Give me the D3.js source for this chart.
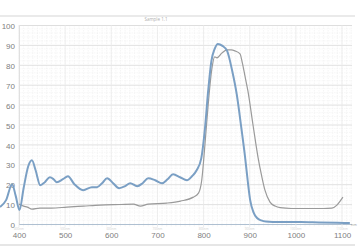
<!DOCTYPE html>
<html>
<head>
<meta charset="utf-8">
<script src="https://cdn.jsdelivr.net/npm/d3@7"></script>
<style>
  body { margin: 0; background: #fff; }
  svg { display: block; font-family: "Open Sans", "DejaVu Sans", sans-serif; }
</style>
</head>
<body>
<svg id="chart" width="359" height="250"></svg>
<script>
// wavelength (nm) / transmission (%)
const blueWl = [359, 372, 385, 393, 401, 410, 420, 428, 436, 446, 456, 467, 475, 482, 495, 506, 520, 539, 558, 569, 580, 591, 604, 617, 630, 641, 656, 668, 680, 695, 710, 722, 734, 749, 764, 775, 785, 795, 803, 810, 817, 824, 831, 841, 851, 862, 872, 882, 890, 896, 901, 908, 916, 925, 935, 950, 980, 1010, 1050, 1090, 1117];
const blueT  = [8.5, 12, 20, 14, 7, 18, 29, 32, 27, 19.5, 21, 23.5, 22.5, 21, 22.5, 24, 20, 17, 18.5, 18.5, 20.5, 23, 20.5, 18, 19, 20.5, 19, 20.5, 23, 22, 20.5, 22.5, 25, 23.5, 22, 24, 27, 33, 48, 67, 82, 88, 90.5, 89.5, 87, 77, 65, 48, 33.5, 21, 12, 6, 3, 1.8, 1.2, 1, 1, 1, 0.8, 0.6, 0.5];

const grayWl = [400, 410, 418, 428, 445, 470, 504, 540, 576, 620, 648, 663, 680, 720, 750, 778, 789, 796, 803, 810, 818, 824, 829, 840, 851, 860, 868, 879, 884, 890, 896, 907, 918, 926, 933, 944, 955, 966, 990, 1030, 1060, 1078, 1089, 1096, 1102];
const grayT  = [10, 9, 8.5, 7.5, 8, 8, 8.5, 9, 9.5, 9.8, 10, 9, 10, 10.5, 11.5, 13.5, 15.5, 22, 40, 60, 78, 84, 83.5, 86, 87.5, 87.5, 87, 85.5, 81, 74, 67, 50, 33.5, 24, 17, 11, 9, 8.2, 7.8, 7.8, 7.8, 8, 9.5, 11.5, 13.5];

const yTicks = [0, 10, 20, 30, 40, 50, 60, 70, 80, 90, 100];
const xTicks = [400, 500, 600, 700, 800, 900, 1000, 1100];
const titleText = "Sample 1.1";

const svg = d3.select("#chart");

// 400 nm sits at x=19, 1100 nm at x=342
const x = d3.scaleLinear().domain([400, 1100]).range([19, 342]);
const y = d3.scaleLinear().domain([0, 100]).range([224, 25]);
const xRight = 352;

// top frame and title
svg.append("line").attr("x1", 0).attr("x2", 355).attr("y1", 16).attr("y2", 16)
    .attr("stroke", "#d6d6d6").attr("stroke-width", 1.2);
svg.append("text").attr("x", 156).attr("y", 21).attr("text-anchor", "middle")
    .attr("font-size", 4.5).attr("fill", "#b0b0b0").text(titleText);
// bottom band
svg.append("line").attr("x1", 0).attr("x2", 355).attr("y1", 245).attr("y2", 245)
    .attr("stroke", "#e6e6e6").attr("stroke-width", 2);

// minor vertical grid every 10 nm
const minorX = d3.range(400, 1130, 10);
svg.append("g").selectAll("line").data(minorX).join("line")
    .attr("x1", d => x(d)).attr("x2", d => x(d))
    .attr("y1", y(100)).attr("y2", 227)
    .attr("stroke", "#efefef").attr("stroke-width", 0.6).attr("stroke-dasharray", "1.5,1");

// minor horizontal grid every 2 %
const minorY = d3.range(2, 100, 2).filter(v => v % 10 !== 0);
svg.append("g").selectAll("line").data(minorY).join("line")
    .attr("x1", x(400)).attr("x2", xRight)
    .attr("y1", d => y(d)).attr("y2", d => y(d))
    .attr("stroke", "#f2f2f2").attr("stroke-width", 0.6).attr("stroke-dasharray", "1.5,1");

// major horizontal grid
const yAxis = d3.axisLeft(y).tickValues(yTicks).tickSize(-(xRight - x(400))).tickPadding(4);
svg.append("g").attr("transform", `translate(${x(400)},0)`).call(yAxis)
    .call(g => g.select(".domain").attr("stroke", "#dcdcdc"))
    .call(g => g.selectAll(".tick line").attr("stroke", d => d === 0 ? "#a9bccf" : "#dedede").attr("stroke-width", 0.9))
    .call(g => g.selectAll("text").attr("font-size", 8).attr("fill", "#808080").attr("dy", "0.45em"));

// major vertical grid at labelled ticks
svg.append("g").selectAll("line").data(xTicks).join("line")
    .attr("x1", d => x(d)).attr("x2", d => x(d))
    .attr("y1", y(100)).attr("y2", 227)
    .attr("stroke", "#e8e8e8").attr("stroke-width", 0.7);

// x axis labels
const xAxis = d3.axisBottom(x).tickValues(xTicks).tickFormat(d3.format("d")).tickSize(0).tickPadding(6);
svg.append("g").attr("transform", "translate(0,226)").call(xAxis)
    .call(g => g.select(".domain").remove())
    .call(g => g.selectAll("text").attr("font-size", 8).attr("fill", "#808080"));
// faint small labels above
svg.append("g").selectAll("text").data(xTicks).join("text")
    .attr("x", d => x(d)).attr("y", 229.5).attr("text-anchor", "middle")
    .attr("font-size", 3).attr("fill", "#d2d2d2").text(d => d + "nm");
svg.append("text").attr("x", 354).attr("y", 226).attr("font-size", 3.5)
    .attr("fill", "#999").attr("text-anchor", "middle").text("nm");

const line = d3.line().x(d => x(d[0])).y(d => y(d[1])).curve(d3.curveMonotoneX);

svg.append("path").datum(d3.zip(grayWl, grayT))
    .attr("fill", "none").attr("stroke", "#9a9a9a").attr("stroke-width", 1.2)
    .attr("d", line);
svg.append("path").datum(d3.zip(blueWl, blueT))
    .attr("fill", "none").attr("stroke", "#7a9fc4").attr("stroke-width", 2)
    .attr("d", line);
</script>
</body>
</html>
